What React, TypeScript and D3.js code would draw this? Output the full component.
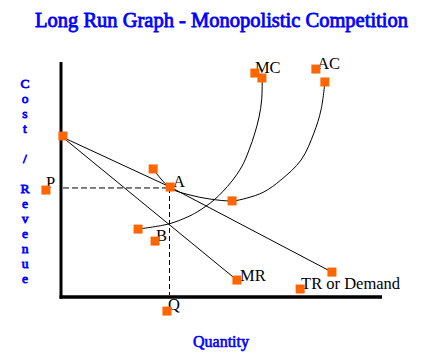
import React from "react";
import * as d3 from "d3";

const W = 428;
const H = 362;

// economic coordinate space: quantity 0..100, price 0..100
const demandPts: [number, number][] = [[0.5, 68], [34, 46.8], [84.4, 10.6]];
const mrPts: [number, number][] = [[0.5, 68], [54.8, 7.2]];
const mcPts: [number, number][] = [
  [24.0, 28.9], [33.6, 31.1], [39.3, 34.0], [42.4, 36.2], [47.7, 41.3],
  [53.0, 48.9], [56.4, 55.7], [58.6, 62.6], [60.4, 69.8], [61.7, 76.6],
  [62.5, 83.8], [62.7, 93.2],
];
const acPts: [number, number][] = [
  [28.7, 54.5], [34.0, 46.4], [40.2, 43.4], [46.4, 41.7], [53.3, 40.9],
  [57.9, 42.1], [63.2, 44.7], [68.5, 49.8], [74.8, 58.3], [78.8, 69.8],
  [81.0, 79.6], [82.2, 91.1],
];
const eqPrice = 46.4;
const eqQty = 33.8;

const handles: [number, number][] = [
  [0.6, 68.5], [-4.7, 45.5], [28.7, 54.5], [34.0, 46.8], [53.3, 40.9],
  [24.0, 28.9], [29.3, 23.8], [33.0, -6.0], [54.8, 7.2], [84.4, 10.6],
  [74.5, 3.4], [60.4, 95.3], [62.6, 93.2], [79.4, 97.0], [82.2, 91.5],
];

const labels: { text: string; q: number; p: number }[] = [
  { text: "MC", q: 60.4, p: 95.3 },
  { text: "AC", q: 79.8, p: 97.0 },
  { text: "A", q: 34.9, p: 46.8 },
  { text: "B", q: 29.6, p: 23.8 },
  { text: "P", q: -4.7, p: 46.4 },
  { text: "Q", q: 33.3, p: -5.5 },
  { text: "MR", q: 55.8, p: 6.8 },
  { text: "TR or Demand", q: 74.8, p: 3.4 },
];

const yLabelChars = ["C", "o", "s", "t", "", "/", "", "R", "e", "v", "e", "n", "u", "e"];
const title = "Long Run Graph - Monopolistic Competition";
const xTitle = "Quantity";

const SERIF = "'Liberation Serif', 'Times New Roman', Times, serif";
const BLUE = "#0000ff";

export default function App() {
  const x = d3.scaleLinear().domain([0, 100]).range([61, 382]);
  const y = d3.scaleLinear().domain([0, 100]).range([297, 62]);

  const straight = d3
    .line<[number, number]>()
    .x((d) => x(d[0]))
    .y((d) => y(d[1]));
  const curved = d3
    .line<[number, number]>()
    .x((d) => x(d[0]))
    .y((d) => y(d[1]))
    .curve(d3.curveCatmullRom.alpha(0.5));

  const sq = 9;

  return (
    <svg
      width={W}
      height={H}
      style={{ position: "absolute", left: 0, top: 0, background: "#fff" }}
    >
      <rect x={0} y={0} width={W} height={H} fill="#fff" />
      <text
        x={35}
        y={27}
        fontFamily={SERIF}
        fontSize={20.5}
        fill={BLUE}
        stroke={BLUE}
        strokeWidth={0.8}
      >
        {title}
      </text>

      {yLabelChars.map((c, i) =>
        c ? (
          <text
            key={i}
            x={25}
            y={88 + i * 15}
            textAnchor="middle"
            fontFamily={SERIF}
            fontSize={13.5}
            fill={BLUE}
            stroke={BLUE}
            strokeWidth={0.8}
          >
            {c}
          </text>
        ) : null
      )}
      <text
        x={193}
        y={347}
        fontFamily={SERIF}
        fontSize={16}
        fill={BLUE}
        stroke={BLUE}
        strokeWidth={0.6}
      >
        {xTitle}
      </text>

      {/* axes */}
      <line x1={x(0)} y1={y(100)} x2={x(0)} y2={y(0) + 1.5} stroke="#000" strokeWidth={3} />
      <line x1={x(0) - 1.5} y1={y(0)} x2={x(100)} y2={y(0)} stroke="#000" strokeWidth={3.5} />

      {/* dashed guides */}
      <line
        x1={x(0) + 2}
        y1={y(eqPrice)}
        x2={x(eqQty)}
        y2={y(eqPrice)}
        stroke="#000"
        strokeWidth={1}
        strokeDasharray="6,3"
      />
      <line
        x1={x(eqQty)}
        y1={y(eqPrice)}
        x2={x(eqQty)}
        y2={y(0) - 2}
        stroke="#000"
        strokeWidth={1}
        strokeDasharray="5,3"
      />

      {/* curves */}
      <path d={straight(demandPts) || ""} fill="none" stroke="#000" strokeWidth={1} />
      <path d={straight(mrPts) || ""} fill="none" stroke="#000" strokeWidth={1} />
      <path d={curved(mcPts) || ""} fill="none" stroke="#000" strokeWidth={1} />
      <path d={curved(acPts) || ""} fill="none" stroke="#000" strokeWidth={1} />

      {/* labels */}
      {labels.map((l, i) => (
        <text
          key={i}
          x={x(l.q)}
          y={y(l.p)}
          fontFamily={SERIF}
          fontSize={16.5}
          fill="#000"
        >
          {l.text}
        </text>
      ))}

      {/* handles */}
      {handles.map((h, i) => (
        <rect
          key={i}
          x={x(h[0]) - sq / 2}
          y={y(h[1]) - sq / 2}
          width={sq}
          height={sq}
          fill="#ff6600"
        />
      ))}
    </svg>
  );
}
